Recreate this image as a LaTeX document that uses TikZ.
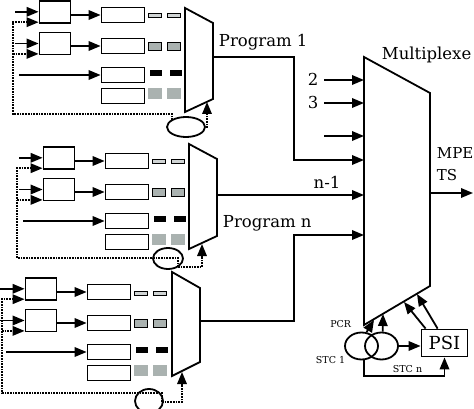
\documentclass[tikz,border=0pt]{standalone}
\usepackage{fontspec}
\setmainfont{DejaVu Serif}
\usetikzlibrary{arrows.meta,shapes.geometric}
\definecolor{pklight}{RGB}{208,212,212}
\definecolor{pkgray}{RGB}{170,178,176}

\begin{document}
\begin{tikzpicture}[x=1pt,y=-1pt,line width=1.8pt,
  >={Triangle[length=12pt,width=9.5pt]},
  src/.style={draw,minimum width=31pt,minimum height=22pt,inner sep=0pt},
  buf/.style={draw,minimum width=43pt,minimum height=15pt,inner sep=0pt},
  pkthin/.style={draw,line width=1pt,fill=pklight,minimum width=13pt,minimum height=4pt,inner sep=0pt},
  pkmid/.style={draw,line width=1pt,fill=pkgray,minimum width=13pt,minimum height=8pt,inner sep=0pt},
  pkblack/.style={fill=black,minimum width=12pt,minimum height=6pt,inner sep=0pt},
  pkfill/.style={fill=pkgray,minimum width=14pt,minimum height=11pt,inner sep=0pt},
  fb/.style={densely dotted,line width=1.7pt},
  clk/.style={draw,ellipse,inner sep=0pt},
  lbl/.style={font=\fontsize{16.5}{19}\selectfont,inner sep=0pt},
  tiny/.style={font=\fontsize{9.5}{11}\selectfont,inner sep=1pt}]
\useasboundingbox (0,0) rectangle (474,409);

% program 1
\begin{scope}[shift={(0,0)}]
\node[src] (s1a) at (55,11.8) {};
\node[src] (s1b) at (55,43.5) {};
\node[buf] (b1a) at (123,15) {};
\node[buf] (b1b) at (123,46) {};
\node[buf] (b1c) at (123,75) {};
\node[buf] (b1d) at (123,96) {};
\node[pkthin] (p1a) at (155,16) {};    \node[pkthin] (q1a) at (174,16) {};
\node[pkmid] (p1b) at (155,46.5) {};   \node[pkmid] (q1b) at (174,46.5) {};
\node[pkblack] (p1c) at (156,73) {};   \node[pkblack] (q1c) at (176,73) {};
\node[pkfill] (p1d) at (155,93.5) {};  \node[pkfill] (q1d) at (174,93.5) {};
\coordinate (i1a) at (15,11.8);
\coordinate (i1b) at (15,43.5);
\coordinate (i1c) at (19,75);
\draw[->] (i1a) -- (s1a);
\draw[->] (i1b) -- (s1b);
\draw[->] (i1c) -- (b1c);
\draw[->] (s1a.east |- b1a) -- (b1a);
\draw[->] (s1b.east |- b1b) -- (b1b);
\draw (185,8) -- (213,23) -- (213,99) -- (185,112) -- cycle;
\coordinate (o1) at (213,57);
\coordinate (t1) at (207,102);
\node[clk,minimum width=38pt,minimum height=20pt] (e1) at (186,127) {};
\coordinate (d1a) at ([yshift=1.5pt]s1a.south west);
\coordinate (d1b) at ([yshift=1.5pt]s1b.south west);
\coordinate (f1a) at (172,120);
\coordinate (f1b) at (13,114);
\draw[fb,->] (f1a) |- (f1b) |- (d1a);
\draw[fb,->] (f1b |- d1b) -- (d1b);
\draw[fb,->] (e1) -| (t1);
\end{scope}

% program n-1
\begin{scope}[shift={(4,146)}]
\node[src] (s2a) at (55,11.8) {};
\node[src] (s2b) at (55,43.5) {};
\node[buf] (b2a) at (123,15) {};
\node[buf] (b2b) at (123,46) {};
\node[buf] (b2c) at (123,75) {};
\node[buf] (b2d) at (123,96) {};
\node[pkthin] (p2a) at (155,16) {};    \node[pkthin] (q2a) at (174,16) {};
\node[pkmid] (p2b) at (155,46.5) {};   \node[pkmid] (q2b) at (174,46.5) {};
\node[pkblack] (p2c) at (156,73) {};   \node[pkblack] (q2c) at (176,73) {};
\node[pkfill] (p2d) at (155,93.5) {};  \node[pkfill] (q2d) at (174,93.5) {};
\coordinate (i2a) at (15,11.8);
\coordinate (i2b) at (15,43.5);
\coordinate (i2c) at (19,75);
\draw[->] (i2a) -- (s2a);
\draw[->] (i2b) -- (s2b);
\draw[->] (i2c) -- (b2c);
\draw[->] (s2a.east |- b2a) -- (b2a);
\draw[->] (s2b.east |- b2b) -- (b2b);
\draw (185,-2) -- (213,13) -- (213,90) -- (185,103) -- cycle;
\coordinate (o2) at (213,49);
\coordinate (t2) at (198,98);
\node[clk,minimum width=30pt,minimum height=21pt] (e2) at (164,112.5) {};
\coordinate (d2a) at ([yshift=1.5pt]s2a.south west);
\coordinate (d2b) at ([yshift=1.5pt]s2b.south west);
\coordinate (f2a) at (174,121);
\coordinate (f2b) at (13,112);
\draw[fb,->] (f2a) |- (f2b) |- (d2a);
\draw[fb,->] (f2b |- d2b) -- (d2b);
\draw[fb,->] (f2a) -| (t2);
\end{scope}

% program n
\begin{scope}[shift={(-14,277)}]
\node[src] (s3a) at (55,11.8) {};
\node[src] (s3b) at (55,43.5) {};
\node[buf] (b3a) at (123,15) {};
\node[buf] (b3b) at (123,46) {};
\node[buf] (b3c) at (123,75) {};
\node[buf] (b3d) at (123,96) {};
\node[pkthin] (p3a) at (155,16) {};    \node[pkthin] (q3a) at (174,16) {};
\node[pkmid] (p3b) at (155,46.5) {};   \node[pkmid] (q3b) at (174,46.5) {};
\node[pkblack] (p3c) at (156,73) {};   \node[pkblack] (q3c) at (176,73) {};
\node[pkfill] (p3d) at (155,93.5) {};  \node[pkfill] (q3d) at (174,93.5) {};
\coordinate (i3a) at (14,11.8);
\coordinate (i3b) at (14,43.5);
\coordinate (i3c) at (20,75);
\draw[->] (i3a) -- (s3a);
\draw[->] (i3b) -- (s3b);
\draw[->] (i3c) -- (b3c);
\draw[->] (s3a.east |- b3a) -- (b3a);
\draw[->] (s3b.east |- b3b) -- (b3b);
\draw (186,-5) -- (214,11) -- (214,85) -- (186,99) -- cycle;
\coordinate (o3) at (214,44);
\coordinate (t3) at (196,95);
\node[clk,minimum width=28pt,minimum height=24pt] (e3) at (163,124) {};
\coordinate (d3a) at ([yshift=1.5pt]s3a.south west);
\coordinate (d3b) at ([yshift=1.5pt]s3b.south west);
\coordinate (f3a) at (176,125);
\coordinate (f3b) at (16,116);
\draw[fb,->] (f3a) |- (f3b) |- (d3a);
\draw[fb,->] (f3b |- d3b) -- (d3b);
\draw[fb,->] (f3a) -| (t3);
\end{scope}

% multiplexer
\draw (364,57) -- (430,93) -- (430,286) -- (364,325) -- cycle;
\node[lbl,anchor=base west] (mxl) at (381,60) {Multiplexe};
\coordinate (m2) at (364,80);
\coordinate (m3) at (364,103);
\coordinate (m4) at (364,136);
\coordinate (m5) at (364,160);
\coordinate (m6) at (364,195);
\coordinate (m7) at (364,235);
\node[lbl,anchor=base] (n2) at (313,86) {2};
\node[lbl,anchor=base] (n3) at (313,109) {3};
\coordinate (n4) at (324,136);
\draw[->] ([xshift=5pt]n2.east |- m2) -- (m2);
\draw[->] ([xshift=5pt]n3.east |- m3) -- (m3);
\draw[->] (n4) -- (m4);
\coordinate (k1) at (294,100);
\coordinate (k3) at (294,280);
\draw[->] (o1) -| (k1) |- (m5);
\draw[->] (o2) -- (m6);
\draw[->] (o3) -| (k3) |- (m7);
\node[lbl,anchor=base west] (pg1) at (218,47) {Program 1};
\node[lbl,anchor=base west] (pgn) at (222,227) {Program n};
\node[lbl,anchor=base] (pn1) at (327,188) {n-1};
\coordinate (mo) at (430,193);
\coordinate (me) at (473,193);
\draw[->] (mo) -- (me);
\node[lbl,anchor=base west,font=\fontsize{15}{18}\selectfont] (mpe) at (436,159) {MPE};
\node[lbl,anchor=base west,font=\fontsize{15}{18}\selectfont] (ts) at (436,180) {TS};

% clocks and PSI
\node[clk,minimum width=33pt,minimum height=27pt] (c1) at (361.5,346) {};
\node[clk,minimum width=33pt,minimum height=27pt] (cn) at (381.5,346) {};
\node[draw,font=\fontsize{18}{20}\selectfont,minimum width=46pt,minimum height=27pt,inner sep=0pt] (psi) at (444.5,343) {PSI};
\coordinate (u1) at (374,320);
\coordinate (u2) at (383,314);
\coordinate (u3) at (404,302);
\coordinate (u4) at (417,294);
\draw[->] (c1.70) -- (u1);
\draw[->] (cn.85) -- (u2);
\draw[->] ([xshift=5pt]psi.north west) -- (u3);
\draw[->] ([xshift=17pt]psi.north west) -- (u4);
\draw[->] (cn.east) -- (cn.east -| psi.west);
\coordinate (w) at (420,376);
\draw[->] (c1.-80) |- (w) -| (psi.south);
\node[tiny,anchor=base east] (pcr) at (353,327) {PCR};
\node[tiny,anchor=base east] (st1) at (347,363) {STC 1};
\node[tiny,anchor=base west] (stn) at (391,372) {STC n};
\end{tikzpicture}
\end{document}
